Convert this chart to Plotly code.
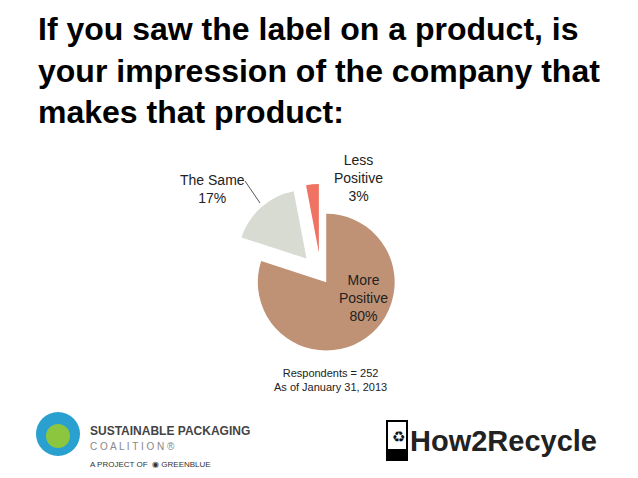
import plotly.graph_objects as go

labels = ['More Positive', 'The Same', 'Less Positive']
values = [80, 17, 3]
pulls = [0.13, 0.32, 0.33]
colors = ['#bf9175', '#d8dbd2', '#ef7263']

W, H = 638, 478

fig = go.Figure(go.Pie(
    labels=labels, values=values, pull=pulls, sort=False,
    direction='clockwise', rotation=0, textinfo='none',
    marker={'colors': colors, 'line': {'width': 0}},
    domain={'x': [222/W, 404/W], 'y': [120/H, 302/H]},
    showlegend=False))

def px(x, y):
    return x / W, 1 - y / H

anns = [
    ('<b>If you saw the label on a product, is<br>your impression of the company that<br>makes that product:</b>',
     28, 1, 32, 'left', 'top', 'black'),
    ('The Same<br>17%', 204, 181, 14, 'center', 'middle', '#222'),
    ('Less<br>Positive<br>3%', 350, 170, 14, 'center', 'middle', '#222'),
    ('More<br>Positive<br>80%', 355, 290, 14, 'center', 'middle', '#222'),
    ('Respondents = 252<br>As of January 31, 2013', 322, 372, 11, 'center', 'middle', '#222'),
    ('<b>SUSTAINABLE PACKAGING</b>', 80, 423, 12, 'left', 'middle', '#444'),
    ('C O A L I T I O N ®', 80, 438, 10, 'left', 'middle', '#888'),
    ('A PROJECT OF  ◉ GREENBLUE', 80, 456, 8, 'left', 'middle', '#333'),
    ('<b>How2Recycle</b>', 400, 433, 29, 'left', 'middle', '#222'),
    ('♻', 390, 428, 15, 'center', 'middle', '#111'),
]
for t, x, y, s, xa, ya, c in anns:
    ax, ay = px(x, y)
    fig.add_annotation(text=t, x=ax, y=ay, xref='paper', yref='paper', showarrow=False,
                       xanchor=xa, yanchor=ya, align=xa if xa != 'center' else 'center',
                       font={'size': s, 'color': c})

# leader line for The Same
fig.add_shape(type='line', xref='paper', yref='paper',
              x0=237/W, y0=1-173/H, x1=252/W, y1=1-195/H, line={'color': '#555', 'width': 1})
# SPC logo circle
fig.add_shape(type='circle', xref='paper', yref='paper',
              x0=28/W, y0=1-448/H, x1=72/W, y1=1-404/H, fillcolor='#2aa0d0', line={'width': 0})
fig.add_shape(type='circle', xref='paper', yref='paper',
              x0=38/W, y0=1-440/H, x1=62/W, y1=1-416/H, fillcolor='#8cc63f', line={'width': 0})
# How2Recycle box
fig.add_shape(type='rect', xref='paper', yref='paper',
              x0=379/W, y0=1-452/H, x1=399/W, y1=1-413/H, line={'color': 'black', 'width': 2},
              fillcolor='white')
fig.add_shape(type='rect', xref='paper', yref='paper',
              x0=379/W, y0=1-452/H, x1=399/W, y1=1-441/H, line={'width': 0}, fillcolor='black')

fig.update_layout(width=W, height=H, margin={'l': 0, 'r': 0, 't': 0, 'b': 0},
                  paper_bgcolor='white', plot_bgcolor='white',
                  font={'family': 'Arial'})
fig.write_html('out.html', config={'displayModeBar': False})
